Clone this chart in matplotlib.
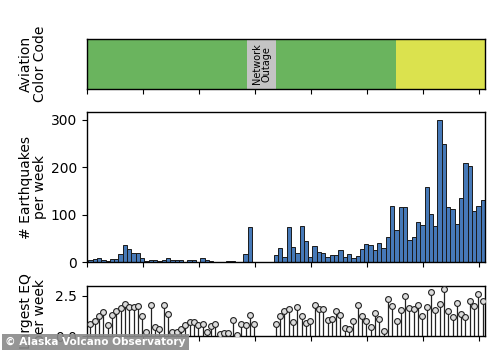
import matplotlib
matplotlib.use("Agg")
import matplotlib.pyplot as plt
import numpy as np

# Weekly earthquake counts (one value per week)
weekly_counts = [
    4, 7, 9, 5, 3, 6, 6, 16, 36, 27, 20, 18, 8, 3, 5, 5, 3, 5, 9, 5,
    5, 5, 1, 5, 5, 1, 9, 5, 3, 1, 1, 1, 2, 2, 1, 0, 16, 74, 0, 0,
    0, 0, 0, 15, 29, 11, 74, 32, 20, 76, 44, 11, 34, 22, 20, 11, 15, 15, 26, 11,
    17, 8, 12, 27, 39, 36, 25, 41, 29, 52, 119, 67, 117, 117, 46, 52, 84, 79, 159, 102,
    76, 300, 249, 117, 112, 81, 135, 209, 203, 107, 119, 130,
]

# Largest earthquake magnitude per week (week index, magnitude)
largest_weeks = list(range(0, 39)) + list(range(43, 92))
largest_mag = [
    0.72, 0.92, 1.25, 1.5, 0.7, 1.32, 1.57, 1.77, 2.01, 1.82,
    1.83, 1.86, 1.26, 0.22, 1.92, 0.59, 0.41, 1.94, 1.35, 0.24,
    0.24, 0.42, 0.67, 0.9, 0.88, 0.67, 0.72, 0.25, 0.6, 0.76,
    0.15, 0.21, 0.21, 0.98, 0.08, 0.78, 0.66, 1.32, 0.77,
    0.73, 1.27, 1.54, 1.67, 0.88, 1.83, 1.23, 0.83, 0.94, 1.96,
    1.67, 1.67, 0.98, 1.08, 1.56, 1.29, 0.52, 0.44, 0.92, 1.96,
    1.23, 0.96, 0.56, 1.42, 1.08, 0.29, 2.33, 1.87, 0.96, 1.65,
    2.52, 1.77, 1.67, 1.96, 1.27, 1.83, 2.75, 1.65, 2.0, 2.92,
    1.58, 1.21, 2.08, 1.35, 1.21, 2.21, 1.9, 2.62, 2.21,
]

# Aviation color code periods (start week, end week, colour, label)
code_periods = [
    (-0.8, 36.4, "#6ab45e", ""),
    (36.4, 43.1, "#c4c4c4", "Network\nOutage"),
    (43.1, 70.8, "#6ab45e", ""),
    (70.8, 91.6, "#dbe24e", ""),
]

x_limits = (-0.8, 91.6)
tick_weeks = [-0.8 + 13 * k for k in range(8)]

fig = plt.figure(figsize=(5, 3.5), dpi=100)
ax_code = fig.add_axes([0.174, 0.7457, 0.7966, 0.1429])
ax_count = fig.add_axes([0.174, 0.2514, 0.7966, 0.4278])
ax_mag = fig.add_axes([0.174, 0.04, 0.7966, 0.1437])

# Aviation colour code strip
for start, end, colour, label in code_periods:
    ax_code.axvspan(start, end, color=colour, lw=0)
    if label:
        ax_code.text((start + end) / 2, 0.5, label, rotation=90,
                     ha="center", va="center", fontsize=7,
                     linespacing=1.0)
ax_code.set_ylim(0, 1)
ax_code.set_yticks([])
ax_code.set_ylabel("Aviation\nColor Code", fontsize=10, linespacing=1.0)

# Weekly earthquake counts
weeks = np.arange(len(weekly_counts))
ax_count.bar(weeks, weekly_counts, width=1.0, color="#4679b8",
             edgecolor="#1a1a1a", linewidth=0.7)
ax_count.set_ylim(0, 316)
ax_count.set_yticks([0, 100, 200, 300])
ax_count.set_ylabel("# Earthquakes\nper week", fontsize=10, linespacing=1.0)

# Largest earthquake per week as stems
for wk, mag in zip(largest_weeks, largest_mag):
    ax_mag.plot([wk, wk], [0, mag], color="#222222", lw=0.9, zorder=2)
ax_mag.plot(largest_weeks, largest_mag, "o", ms=4.2, mfc="#dcdcdc",
            mec="#222222", mew=0.8, zorder=3)
ax_mag.set_ylim(0, 3.14)
ax_mag.set_yticks([0.0, 2.5])
ax_mag.set_yticklabels(["0.0", "2.5"])
ax_mag.set_ylabel("Largest EQ\nper week", fontsize=10, linespacing=1.0)

for ax in (ax_code, ax_count, ax_mag):
    ax.set_xlim(*x_limits)
    ax.set_xticks(tick_weeks)
    ax.set_xticklabels([])
    ax.tick_params(axis="both", direction="out", length=3.5, width=0.8,
                   labelsize=10)
    for spine in ax.spines.values():
        spine.set_linewidth(1.0)
    ax.yaxis.set_label_coords(-0.1, 0.5)

# Credit line
fig.text(0.01, 0.022, "\u00a9 Alaska Volcano Observatory", fontsize=7.6,
         fontweight="bold", color="white", ha="left", va="center",
         bbox=dict(boxstyle="square,pad=0.3", facecolor="#8a8a8a",
                   edgecolor="none", alpha=0.9))

fig.savefig("out.png", dpi=100)
